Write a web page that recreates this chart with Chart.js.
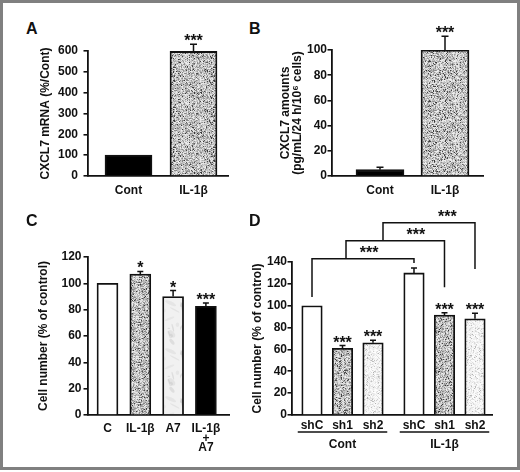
<!DOCTYPE html>
<html>
<head>
<meta charset="utf-8">
<title>CXCL7 / IL-1β panels</title>
<script src="https://cdn.jsdelivr.net/npm/chart.js@4.4.1/dist/chart.umd.min.js"></script>
<style>
  body { margin: 0; background: #fff; }
  #frame { position: absolute; left: 0; top: 0; width: 520px; height: 470px; box-sizing: border-box; border: 3px solid #808080; }
  canvas { position: absolute; }
  .tag { position: absolute; font: bold 16px "Liberation Sans", Arial, Helvetica, sans-serif; line-height: 16px; color: #111; }
</style>
</head>
<body>
<div id="frame"></div>
<canvas id="chartA"></canvas>
<canvas id="chartB"></canvas>
<canvas id="chartC"></canvas>
<canvas id="chartD"></canvas>
<div class="tag" style="left:26px;top:21px">A</div>
<div class="tag" style="left:249px;top:21px">B</div>
<div class="tag" style="left:26px;top:213px">C</div>
<div class="tag" style="left:249px;top:213px">D</div>
<script>
const FONT = '"Liberation Sans", Arial, Helvetica, sans-serif';
const INK = '#111';

// A: CXCL7 mRNA
const catsA = ['Cont', 'IL-1β'];
const mrnaA = [100, 598];
const semA = [0, 35];
const sigA = ['', '***'];

// B: secreted CXCL7
const catsB = ['Cont', 'IL-1β'];
const amountB = [5, 100];
const semB = [2, 11];
const sigB = ['', '***'];

// C: cell number with A7 antibody
const catsC = ['C', 'IL-1β', 'A7', ['IL-1β', '+', 'A7']];
const cellsC = [100, 107, 90, 82.5];
const semC = [0, 2, 4.5, 2.5];
const sigC = ['', '*', '*', '***'];

// D: shRNA knockdown
const catsD = ['shC', 'sh1', 'sh2', 'shC', 'sh1', 'sh2'];
const groupsD = ['Cont', 'IL-1β'];
const groupOfD = [0, 0, 0, 1, 1, 1];
const cellsD = [100, 61, 66, 130, 91.5, 88];
const semD = [0, 2.5, 2.5, 4.5, 2, 5];
const sigD = ['', '***', '***', '', '***', '***'];
const pairsD = [[0, 3], [1, 4], [2, 5]];
const pairSigD = ['***', '***', '***'];

// grey textures used as bar fills
function tile(ctx, seed, shade) {
    const n = 40;
    const c = document.createElement('canvas');
    c.width = c.height = n;
    const g = c.getContext('2d');
    const img = g.createImageData(n, n);
    let s = seed;
    const rnd = () => (s = (s * 16807) % 2147483647) / 2147483647;
    for (let p = 0; p < n * n; p++) {
        const v = Math.round(shade(rnd(), rnd()));
        img.data.set([v, v, v, 255], p * 4);
    }
    g.putImageData(img, 0, 0);
    return ctx.createPattern(c, 'repeat');
}

function marble(ctx, seed) {
    const n = 48;
    const c = document.createElement('canvas');
    c.width = c.height = n;
    const g = c.getContext('2d');
    g.fillStyle = '#f1f1f1';
    g.fillRect(0, 0, n, n);
    let s = seed;
    const rnd = () => (s = (s * 16807) % 2147483647) / 2147483647;
    for (let k = 0; k < 45; k++) {
        g.fillStyle = 'rgba(120,120,120,' + (0.06 + rnd() * 0.12) + ')';
        g.beginPath();
        g.ellipse(rnd() * n, rnd() * n, 1 + rnd() * 5, 0.6 + rnd() * 2, rnd() * 3, 0, Math.PI * 2);
        g.fill();
    }
    return ctx.createPattern(c, 'repeat');
}

const speckle = (r, t) => r < 0.08 ? 50 + t * 50 : r < 0.3 ? 130 + t * 35 : r < 0.65 ? 175 + t * 30 : 210 + t * 32;
const fine = (r, t) => r < 0.07 ? 175 + t * 35 : r < 0.3 ? 215 + t * 20 : 238 + t * 17;

function overlay(o) {
    return {
        id: 'overlay',
        afterDatasetsDraw(chart) {
            const { ctx, scales: { x, y } } = chart;
            const bars = chart.getDatasetMeta(0).data;
            ctx.save();
            ctx.strokeStyle = INK;
            ctx.fillStyle = INK;
            ctx.lineWidth = 1.5;
            ctx.textAlign = 'center';
            ctx.textBaseline = 'alphabetic';
            ctx.font = 'bold 16px ' + FONT;
            bars.forEach((bar, i) => {
                const v = o.values[i], e = o.sem[i];
                const top = y.getPixelForValue(v + e);
                if (e > 0) {
                    ctx.beginPath();
                    ctx.moveTo(bar.x, y.getPixelForValue(v));
                    ctx.lineTo(bar.x, top);
                    ctx.moveTo(bar.x - o.cap, top);
                    ctx.lineTo(bar.x + o.cap, top);
                    ctx.stroke();
                }
                if (o.sig[i]) ctx.fillText(o.sig[i], bar.x, top + 2);
            });

            if (o.pairs) {
                o.pairs.forEach(([a, b], k) => {
                    const g = o.bracket;
                    const lx = bars[a].x + g.shift[k], rx = bars[b].x;
                    const ly = y.getPixelForValue(g.level[k]);
                    ctx.beginPath();
                    ctx.moveTo(lx, y.getPixelForValue(g.leftEnd[k]));
                    ctx.lineTo(lx, ly);
                    ctx.lineTo(rx, ly);
                    ctx.lineTo(rx, y.getPixelForValue(g.rightEnd[k]));
                    ctx.stroke();
                    ctx.fillText(o.pairSig[k], lx + (rx - lx) * g.starAt[k], ly - 0.5);
                });
            }

            if (o.groups) {
                ctx.font = 'bold 12px ' + FONT;
                ctx.textBaseline = 'middle';
                o.groups.forEach((name, g) => {
                    const idx = o.groupOf.map((v, i) => v === g ? i : -1).filter(i => i >= 0);
                    const first = bars[idx[0]], last = bars[idx[idx.length - 1]];
                    const l = first.x - first.width / 2 - 4, r = last.x + last.width / 2 + 4;
                    const ly = x.top + 17;
                    ctx.beginPath();
                    ctx.moveTo(l, ly);
                    ctx.lineTo(r, ly);
                    ctx.stroke();
                    ctx.fillText(name, (l + r) / 2, x.top + 30);
                });
            }
            ctx.restore();
        }
    };
}

function panel(id, box, plot, opt) {
    const cv = document.getElementById(id);
    const w = box.r - box.l, h = box.b - box.t;
    Object.assign(cv.style, { left: box.l + 'px', top: box.t + 'px', width: w + 'px', height: h + 'px' });
    cv.width = w;
    cv.height = h;
    const ctx = cv.getContext('2d');
    const xs = opt.cats.map((c, i) => i + (opt.split != null && i >= opt.split ? opt.gap : 0));
    const xMin = -(opt.first - plot.l) / opt.pitch;
    const xMax = (plot.r - opt.first) / opt.pitch;
    const axisFont = { family: FONT, weight: 'bold', size: 12 };

    return new Chart(ctx, {
        type: 'bar',
        data: {
            datasets: [{
                data: opt.values.map((v, i) => ({ x: xs[i], y: v })),
                backgroundColor: opt.fills(ctx),
                borderColor: INK,
                borderWidth: 1.8,
                borderSkipped: 'bottom',
                barThickness: opt.barW
            }]
        },
        options: {
            responsive: false,
            animation: false,
            layout: { padding: { left: 0, top: plot.t - box.t, right: box.r - plot.r, bottom: 0 } },
            scales: {
                x: {
                    type: 'linear',
                    min: xMin,
                    max: xMax,
                    bounds: 'data',
                    offset: false,
                    afterBuildTicks: s => { s.ticks = xs.map(v => ({ value: v })); },
                    afterFit: s => { s.height = box.b - plot.b; },
                    grid: { display: false, drawTicks: false },
                    border: { color: INK, width: 1.8 },
                    ticks: {
                        autoSkip: false,
                        maxRotation: 0,
                        padding: opt.xPad,
                        color: INK,
                        font: Object.assign({}, axisFont, { lineHeight: opt.xLine || 1.2 }),
                        callback: (v, i) => opt.cats[i]
                    }
                },
                y: {
                    min: 0,
                    max: opt.yMax,
                    afterFit: s => { s.width = plot.l - box.l; },
                    grid: { drawOnChartArea: false, drawTicks: true, tickLength: 4.5, color: INK, lineWidth: 1.6 },
                    border: { color: INK, width: 1.8 },
                    ticks: { stepSize: opt.step, padding: opt.yPad, color: INK, font: axisFont },
                    title: {
                        display: true,
                        text: opt.title,
                        color: INK,
                        padding: 0,
                        font: Object.assign({}, axisFont, { lineHeight: opt.tLine || 1.2 })
                    }
                }
            },
            plugins: { legend: { display: false }, tooltip: { enabled: false } }
        },
        plugins: [overlay(opt.extra)]
    });
}

panel('chartA', { l: 38, t: 18, r: 245, b: 210 }, { l: 88, t: 51, r: 228, b: 176 }, {
    cats: catsA, values: mrnaA, yMax: 600, step: 100,
    title: 'CXCL7 mRNA (%/Cont)',
    first: 128.5, pitch: 65, barW: 47, xPad: 7, yPad: 5.5,
    fills: ctx => ['#000', tile(ctx, 11, speckle)],
    extra: { values: mrnaA, sem: semA, sig: sigA, cap: 3.5 }
});

panel('chartB', { l: 280, t: 18, r: 505, b: 210 }, { l: 332, t: 50, r: 483, b: 176 }, {
    cats: catsB, values: amountB, yMax: 100, step: 20,
    title: ['CXCL7 amounts', '(pg/mL/24 h/10⁶ cells)'], tLine: 1.0,
    first: 380, pitch: 65, barW: 48, xPad: 7, yPad: 0.5,
    fills: ctx => ['#000', tile(ctx, 23, speckle)],
    extra: { values: amountB, sem: semB, sig: sigB, cap: 3.5 }
});

panel('chartC', { l: 36, t: 225, r: 245, b: 462 }, { l: 88, t: 257, r: 229, b: 415 }, {
    cats: catsC, values: cellsC, yMax: 120, step: 20,
    title: 'Cell number (% of control)',
    first: 107.5, pitch: 32.8, barW: 21, xPad: 9, yPad: 2, xLine: 0.8,
    fills: ctx => ['#fff', tile(ctx, 37, speckle), marble(ctx, 5), '#000'],
    extra: { values: cellsC, sem: semC, sig: sigC, cap: 3 }
});

panel('chartD', { l: 250, t: 200, r: 510, b: 462 }, { l: 292, t: 262, r: 492, b: 415 }, {
    cats: catsD, values: cellsD, yMax: 140, step: 20,
    title: 'Cell number (% of control)',
    first: 312, pitch: 30.5, barW: 20.5, split: 3, gap: 0.344, xPad: 3, yPad: 0.5,
    fills: ctx => {
        const dark = tile(ctx, 41, speckle), light = tile(ctx, 53, fine);
        return ['#fff', dark, light, '#fff', dark, light];
    },
    extra: {
        values: cellsD, sem: semD, sig: sigD, cap: 3,
        pairs: pairsD, pairSig: pairSigD,
        bracket: {
            level: [143, 159.5, 176],
            leftEnd: [108, 143, 159.5],
            rightEnd: [139, 117, 133.5],
            shift: [0, 3.5, 10],
            starAt: [0.56, 0.71, 0.70]
        },
        groups: groupsD, groupOf: groupOfD
    }
});
</script>
</body>
</html>
